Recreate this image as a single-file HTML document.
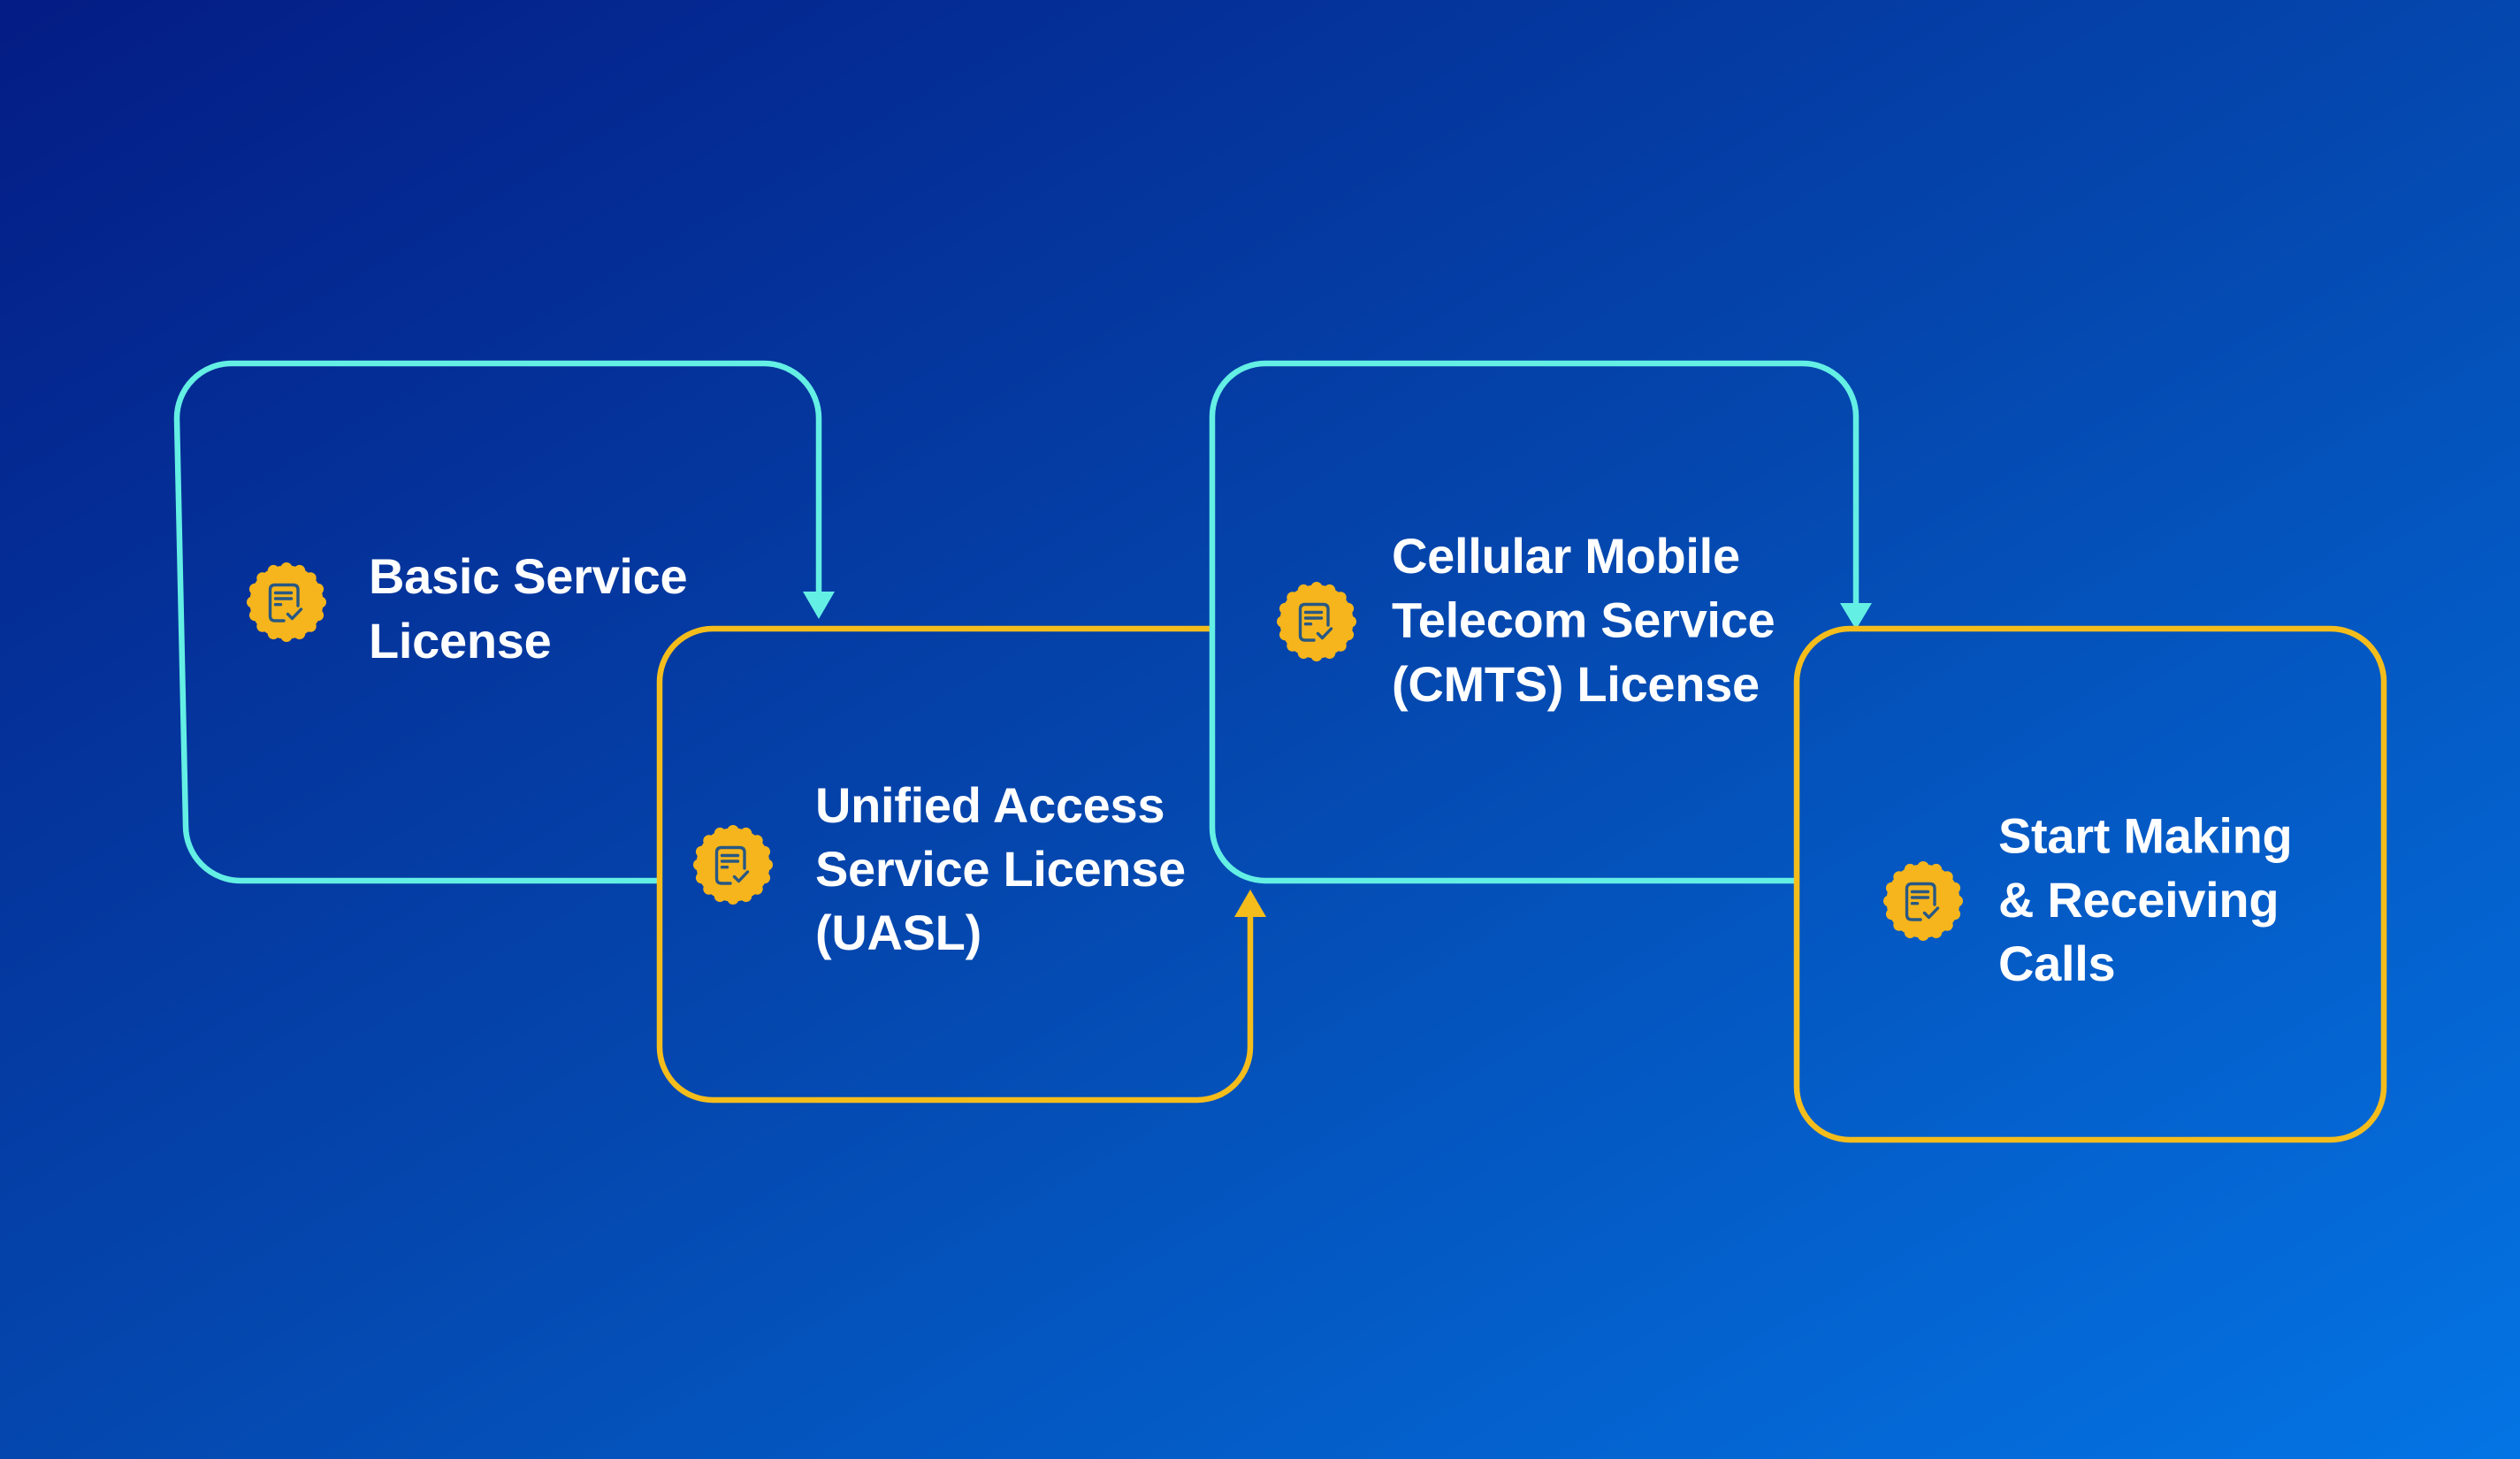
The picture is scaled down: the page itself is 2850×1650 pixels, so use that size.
<!DOCTYPE html>
<html>
<head>
<meta charset="utf-8">
<style>
  html, body { margin:0; padding:0; }
  body {
    width:2850px; height:1650px; overflow:hidden;
    background: linear-gradient(to bottom right, #041c85 0%, #0447ae 50%, #0474e4 100%);
  }
  svg { position:absolute; left:0; top:0; }
  .lbl { font-family:"Liberation Sans", Arial, sans-serif; font-weight:bold; font-size:56px; fill:#ffffff; letter-spacing:-0.3px; }
</style>
</head>
<body>
<svg width="2850" height="1650" viewBox="0 0 2850 1650" xmlns="http://www.w3.org/2000/svg">
  <defs>
    <g id="badge">
      <circle cx="0" cy="0" r="41.5" fill="#f6b51c"/>
      <circle cx="38.5" cy="0" r="6.5" fill="#f6b51c"/>
      <circle cx="35.57" cy="14.73" r="6.5" fill="#f6b51c"/>
      <circle cx="27.22" cy="27.22" r="6.5" fill="#f6b51c"/>
      <circle cx="14.73" cy="35.57" r="6.5" fill="#f6b51c"/>
      <circle cx="0" cy="38.5" r="6.5" fill="#f6b51c"/>
      <circle cx="-14.73" cy="35.57" r="6.5" fill="#f6b51c"/>
      <circle cx="-27.22" cy="27.22" r="6.5" fill="#f6b51c"/>
      <circle cx="-35.57" cy="14.73" r="6.5" fill="#f6b51c"/>
      <circle cx="-38.5" cy="0" r="6.5" fill="#f6b51c"/>
      <circle cx="-35.57" cy="-14.73" r="6.5" fill="#f6b51c"/>
      <circle cx="-27.22" cy="-27.22" r="6.5" fill="#f6b51c"/>
      <circle cx="-14.73" cy="-35.57" r="6.5" fill="#f6b51c"/>
      <circle cx="0" cy="-38.5" r="6.5" fill="#f6b51c"/>
      <circle cx="14.73" cy="-35.57" r="6.5" fill="#f6b51c"/>
      <circle cx="27.22" cy="-27.22" r="6.5" fill="#f6b51c"/>
      <circle cx="35.57" cy="-14.73" r="6.5" fill="#f6b51c"/>
      <g fill="none" stroke="#285885" stroke-width="3.4" stroke-linecap="round" stroke-linejoin="round">
        <path d="M 13 4 V -14 Q 13 -19.5 7.5 -19.5 H -13 Q -18.5 -19.5 -18.5 -14 V 15.5 Q -18.5 21 -13 21 H -3"/>
        <path d="M -12.5 -10.5 H 5.5"/>
        <path d="M -12.5 -4 H 5.5"/>
        <path d="M -12.5 2.7 H -6.5"/>
        <path d="M 1.5 13.5 L 6.5 18.5 L 16.5 8"/>
      </g>
    </g>
  </defs>

  <!-- Box 1 (cyan) -->
  <path d="M 746 996 H 272 A 62 62 0 0 1 210 934 L 200 473 A 62 62 0 0 1 262 411 H 864 A 62 62 0 0 1 926 473 V 672"
        fill="none" stroke="#64efe5" stroke-width="6.5"/>
  <polygon points="908,669 944,669 926,700" fill="#64efe5"/>

  <!-- Box 2 (yellow) -->
  <path d="M 1371 711 H 806 A 60 60 0 0 0 746 771 V 1184 A 60 60 0 0 0 806 1244 H 1354 A 60 60 0 0 0 1414 1184 V 1034"
        fill="none" stroke="#f4bd1c" stroke-width="6.5"/>
  <polygon points="1396,1037 1432,1037 1414,1006" fill="#f4bd1c"/>

  <!-- Box 3 (cyan) -->
  <path d="M 2032 996 H 1431 A 60 60 0 0 1 1371 936 V 471 A 60 60 0 0 1 1431 411 H 2039 A 60 60 0 0 1 2099 471 V 685"
        fill="none" stroke="#64efe5" stroke-width="6.5"/>
  <polygon points="2081,682 2117,682 2099,712" fill="#64efe5"/>

  <!-- Box 4 (yellow) -->
  <rect x="2032" y="711" width="664" height="578" rx="60" ry="60" fill="none" stroke="#f4bd1c" stroke-width="6.5"/>

  <!-- Badges -->
  <use href="#badge" x="324" y="681"/>
  <use href="#badge" x="829" y="978"/>
  <use href="#badge" x="1489" y="703"/>
  <use href="#badge" x="2175" y="1019"/>

  <!-- Labels -->
  <text class="lbl" x="417" y="671">Basic Service</text>
  <text class="lbl" x="417" y="744">License</text>

  <text class="lbl" x="922" y="930">Unified Access</text>
  <text class="lbl" x="922" y="1002">Service License</text>
  <text class="lbl" x="922" y="1074">(UASL)</text>

  <text class="lbl" x="1574" y="648">Cellular Mobile</text>
  <text class="lbl" x="1574" y="720.5">Telecom Service</text>
  <text class="lbl" x="1574" y="793">(CMTS) License</text>

  <text class="lbl" x="2260" y="964.5">Start Making</text>
  <text class="lbl" x="2260" y="1037">&amp; Receiving</text>
  <text class="lbl" x="2260" y="1109">Calls</text>
</svg>
</body>
</html>
